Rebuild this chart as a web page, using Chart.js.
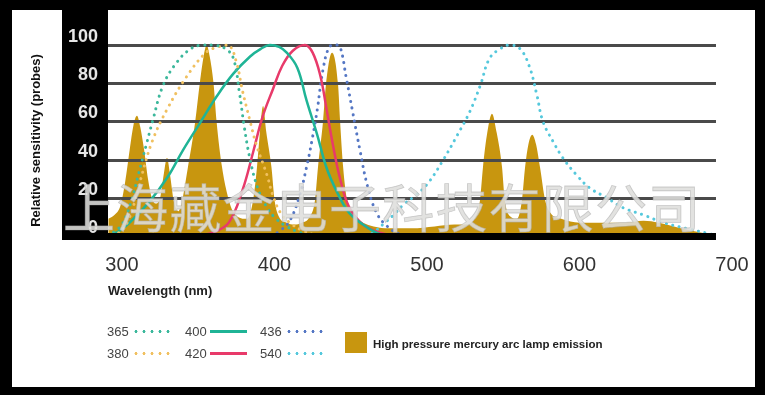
<!DOCTYPE html>
<html>
<head>
<meta charset="utf-8">
<script src="https://cdn.jsdelivr.net/npm/chart.js@4.4.1/dist/chart.umd.min.js"></script>
<style>
  html, body { margin: 0; padding: 0; background: #fff; }
  #wrap { position: relative; width: 768px; height: 395px; overflow: hidden; background: #fff; }
  #grafico { position: absolute; left: 0; top: 0; }
  #moldura { position: absolute; left: 0; top: 0; width: 765px; height: 395px; box-sizing: border-box;
    border: solid #000; border-width: 10px 10px 8px 12px; }
  #marca { position: absolute; left: 63px; top: 180px; font: 52px/1 "Noto Sans CJK SC", sans-serif;
    letter-spacing: 1.2px; white-space: nowrap; color: rgba(222, 222, 220, 0.88);
    -webkit-text-stroke: 0.8px rgba(175, 175, 175, 0.6); }
  .legNum { position: absolute; font: 13px/1 "Liberation Sans", sans-serif; color: #444; transform: translateY(-50%); }
  .legLinha { position: absolute; height: 3px; }
  #swatch { position: absolute; left: 345px; top: 332px; width: 22px; height: 21px; background: #c8960f; }
  #legHg { position: absolute; left: 373px; top: 345px; transform: translateY(-50%);
    font: bold 11.5px/1 "Liberation Sans", sans-serif; color: #222; white-space: nowrap; }
</style>
</head>
<body>
<div id="wrap">
  <canvas id="grafico" width="768" height="395"></canvas>
  <div id="marca">上海藏金电子科技有限公司</div>
  <div id="legenda"></div>
  <div id="swatch"></div>
  <div id="legHg">High pressure mercury arc lamp emission</div>
  <div id="moldura"></div>
</div>
<script>
// eixos
const xTicks = [300, 400, 500, 600, 700];
const yTicks = [0, 20, 40, 60, 80, 100];

// emissão da lâmpada de mercúrio (área dourada)
const hgNm = [291, 295, 299, 302, 305, 307.5, 309.8, 312, 314.5, 317, 319.5, 322, 325, 327.5, 329.5, 331.5, 334, 337,
  339, 343, 348, 351, 353.5, 355.5, 357.5, 360, 362, 365.6, 369, 372, 376, 382, 386, 388.5, 390.5, 392.5, 394.5,
  398, 400, 403, 408, 413, 418, 423, 426.6, 428.5, 431.8, 433.8, 437.7, 441.6, 443, 445, 447.5, 452, 458, 465,
  475, 490, 505, 518, 525, 531, 534.8, 536.7, 539.5, 542.6, 545.7, 549.2, 551, 555, 559, 562.3, 564.3, 566.5,
  569, 571.5, 574.1, 577.4, 581, 588, 600, 615, 630, 642, 652, 662, 672, 682, 689.5];
const hgVal = [9, 11, 16, 28, 45, 58, 63, 57, 45, 30, 20, 17, 20, 33, 41, 32, 18, 13,
  17, 35, 60, 80, 94, 100, 94, 80, 60, 36, 22, 14, 10, 9, 19, 36, 55, 68, 55,
  36, 19, 10, 7, 6, 7, 10, 19, 36, 60, 80, 96, 80, 60, 36, 19, 10, 7, 5,
  4, 4, 5, 6, 6, 9, 19, 36, 54, 64, 54, 36, 19, 10, 9, 19, 36, 48,
  53, 48, 36, 19, 12, 9, 7, 7, 7, 8, 7, 5, 3, 1.5, 0];

// sondas
const nm365 = [291, 296, 300, 306, 311, 316, 320, 327, 336, 345, 352, 360, 368, 373, 377, 380, 384, 389, 395, 401, 408, 416, 424];
const val365 = [0, 3, 6, 18, 33, 48, 60, 79, 91, 98, 100, 100, 98, 93, 75, 58, 40, 25, 15, 9, 5, 2, 0];
const nm380 = [294, 300, 304, 308, 312, 320, 330, 342, 355, 363, 370, 375, 379, 384, 388, 395, 399, 404, 410, 418, 428];
const val380 = [0, 3, 8, 17, 29, 50, 67, 83, 96, 99, 100, 91, 76, 60, 48, 32, 21, 12, 7, 3, 0];
const nm400 = [291, 297, 305, 318, 330, 340, 351, 362, 373, 384, 391, 397, 403, 408, 415, 421, 428, 434, 441, 449, 458, 466, 473];
const val400 = [0, 2, 7, 18, 31, 45, 59, 73, 85, 94, 98, 100, 99, 96, 88, 71, 53, 36, 23, 12, 6, 2, 0];
const nm420 = [350, 360, 370, 379, 386, 392, 399, 405, 412, 420, 425, 430, 434, 438, 443, 449, 458, 468, 478];
const val420 = [0, 2, 7, 24, 44, 62, 77, 89, 97, 100, 96, 84, 67, 49, 30, 15, 6, 2, 0];
const nm436 = [398, 404, 410, 416, 421, 425, 428, 432, 436, 440, 443, 447, 451, 456, 461, 467, 474, 482, 490];
const val436 = [0, 3, 8, 20, 36, 52, 66, 88, 99, 100, 99, 83, 66, 45, 26, 12, 5, 1, 0];
const nm540 = [460, 465, 471, 478, 484, 492, 500, 510, 520, 528, 535, 541, 548, 554, 561, 567, 572, 576, 583, 589,
  598, 607, 618, 628, 642, 655, 670, 686, 689.5];
const val540 = [0, 2, 6, 11, 16, 21, 27, 39, 53, 65, 79, 93, 98, 100, 98, 89, 74, 60, 49, 41,
  32, 25, 20, 15, 11, 7, 4, 1, 0];

const nomesSeries = ['365', '380', '400', '420', '436', '540'];
const coresSeries = ['#3cb89c', '#f0c060', '#1fb496', '#e83a6a', '#5577c4', '#55c8dc'];
const pontilhado = [true, true, false, false, true, true];
const corHg = '#c8960f';

const seriesNm = [nm365, nm380, nm400, nm420, nm436, nm540];
const seriesVal = [val365, val380, val400, val420, val436, val540];

function pontos(xs, ys) {
  return xs.map((x, i) => ({ x: x, y: ys[i] }));
}

const datasets = nomesSeries.map((nome, i) => ({
  label: nome,
  data: pontos(seriesNm[i], seriesVal[i]),
  borderColor: coresSeries[i],
  borderWidth: pontilhado[i] ? 3 : 2.5,
  borderDash: pontilhado[i] ? [0.1, 6.5] : [],
  borderCapStyle: pontilhado[i] ? 'round' : 'butt',
  fill: false,
  tension: 0.4,
  clip: 4,
  order: 0
}));

datasets.push({
  label: 'High pressure mercury arc lamp emission',
  data: pontos(hgNm, hgVal),
  borderWidth: 0,
  borderColor: corHg,
  backgroundColor: corHg,
  fill: 'origin',
  cubicInterpolationMode: 'monotone',
  order: 1
});
const indiceHg = datasets.length - 1;

const fonteNum = '"Liberation Sans", sans-serif';

// painel preto, linhas de grade e barra da base
const decoracao = {
  id: 'decoracao',
  beforeDraw(chart) {
    const { ctx, chartArea } = chart;
    ctx.save();
    ctx.fillStyle = '#000';
    ctx.fillRect(62, 0, chartArea.left - 62, 240);
    ctx.restore();
  },
  afterDatasetDraw(chart, args) {
    if (args.index !== indiceHg) return;
    const { ctx, chartArea, scales } = chart;
    const xFim = scales.x.getPixelForValue(hgNm[hgNm.length - 1]);
    ctx.save();
    ctx.strokeStyle = '#4a4a4a';
    ctx.lineWidth = 3;
    yTicks.filter(v => v > 0).forEach(v => {
      const y = Math.round(scales.y.getPixelForValue(v)) + 0.5;
      ctx.beginPath();
      ctx.moveTo(chartArea.left, y);
      ctx.lineTo(xFim, y);
      ctx.stroke();
    });
    ctx.restore();
  },
  afterDatasetsDraw(chart) {
    const { ctx, scales } = chart;
    const xFim = scales.x.getPixelForValue(hgNm[hgNm.length - 1]);
    const y0 = scales.y.getPixelForValue(0);
    ctx.save();
    ctx.fillStyle = '#000';
    ctx.fillRect(62, y0 - 3, xFim - 62, 7);
    ctx.restore();
  }
};

new Chart(document.getElementById('grafico'), {
  type: 'line',
  data: { datasets: datasets },
  options: {
    responsive: false,
    animation: false,
    layout: { padding: { left: 24, top: 45, right: 36, bottom: 90 } },
    elements: { point: { radius: 0 } },
    plugins: { legend: { display: false }, tooltip: { enabled: false } },
    scales: {
      x: {
        type: 'linear',
        min: 290.8,
        max: 700,
        afterBuildTicks: ax => { ax.ticks = xTicks.map(v => ({ value: v })); },
        afterFit: ax => { ax.height = 69; },
        grid: { display: false, drawTicks: false },
        border: { display: false },
        ticks: { padding: 17, maxRotation: 0, color: '#333', font: { family: fonteNum, size: 20 } },
        title: {
          display: true, text: 'Wavelength (nm)', align: 'start', color: '#222',
          font: { family: '"Liberation Sans", sans-serif', size: 13, weight: 'bold' },
          padding: { top: 0, bottom: 6 }
        }
      },
      y: {
        min: 0,
        max: 100,
        afterBuildTicks: ax => { ax.ticks = yTicks.map(v => ({ value: v })); },
        afterFit: ax => { ax.width = 84; },
        grid: { display: false, drawTicks: false },
        border: { display: false },
        ticks: { padding: 10, labelOffset: -8, color: '#e6e6e6', font: { family: fonteNum, size: 18, weight: 'bold' } },
        title: {
          display: true, text: 'Relative sensitivity (probes)', color: '#111',
          font: { family: '"Liberation Sans", sans-serif', size: 13, weight: 'bold' },
          padding: { top: 5, bottom: 0 }
        }
      }
    }
  },
  plugins: [decoracao]
});

// legenda das sondas
const colunasLeg = [107, 185, 260];
const linhasLeg = [331, 353];
const legenda = document.getElementById('legenda');
nomesSeries.forEach((nome, i) => {
  const cx = colunasLeg[Math.floor(i / 2)];
  const cy = linhasLeg[i % 2];
  const t = document.createElement('div');
  t.className = 'legNum';
  t.style.left = cx + 'px';
  t.style.top = cy + 'px';
  t.textContent = nome;
  legenda.appendChild(t);
  const l = document.createElement('div');
  l.className = 'legLinha';
  l.style.left = (cx + 25) + 'px';
  l.style.top = (cy - 1) + 'px';
  if (pontilhado[i]) {
    l.style.width = '42px';
    l.style.background = 'radial-gradient(circle, ' + coresSeries[i] + ' 1.3px, transparent 1.7px) 0 0 / 8px 3px repeat-x';
  } else {
    l.style.width = '37px';
    l.style.background = coresSeries[i];
  }
  legenda.appendChild(l);
});
</script>
</body>
</html>
